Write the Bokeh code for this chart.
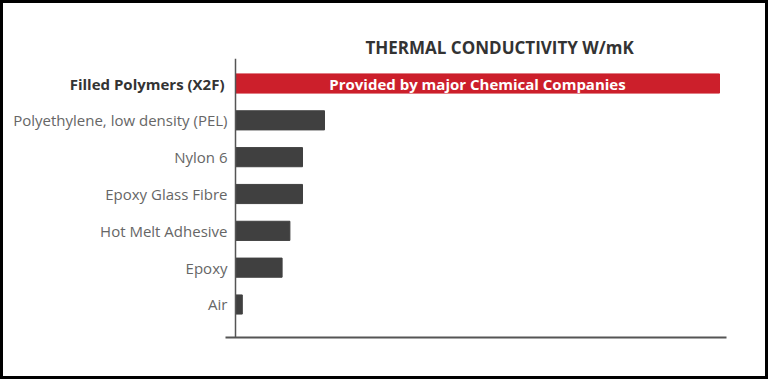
from bokeh.plotting import figure
from bokeh.layouts import column
from bokeh.models import Range1d, Span, FixedTicker, Title, ColumnDataSource, LinearAxis
from bokeh.embed import file_html
from bokeh.resources import INLINE
from bokeh.core.properties import value

# ---- data ----
categories = ["Air", "Epoxy", "Hot Melt Adhesive", "Epoxy Glass Fibre",
              "Nylon 6", "Polyethylene, low density (PEL)", "Filled Polymers (X2F)"]
conductivity = [0.034, 0.233, 0.272, 0.335, 0.335, 0.445, 2.42]
bar_colors = ["#404040", "#404040", "#404040", "#404040", "#404040", "#404040", "#cc1f2b"]
highlight_text = "Provided by major Chemical Companies"
title_text = "THERMAL CONDUCTIVITY W/mK"

ypos = list(range(len(categories)))
FONT = "Open Sans"
X_START, X_END = -0.05, 2.455

source = ColumnDataSource(dict(y=ypos, right=conductivity, color=bar_colors))

p = figure(width=762, height=373, output_backend="svg", toolbar_location=None,
           x_range=Range1d(X_START, X_END), y_range=Range1d(-0.896, 6.679),
           min_border_left=222, min_border_right=39, min_border_top=55,
           min_border_bottom=39)
p.background_fill_color = "white"
p.border_fill_color = "white"
p.outline_line_color = None

p.hbar(y="y", left=0, right="right", height=0.52, color="color", source=source)

p.xgrid.visible = False
p.ygrid.visible = False

# x axis: only the line
xa = p.xaxis[0]
xa.axis_line_color = "#555555"
xa.axis_line_width = 2
xa.major_tick_line_color = None
xa.minor_tick_line_color = None
xa.major_label_text_color = None
xa.major_label_text_font_size = "1px"

# y axis: regular category labels
ya = p.yaxis[0]
ya.ticker = FixedTicker(ticks=ypos[:-1])
ya.major_label_overrides = {i: categories[i] for i in ypos[:-1]}
ya.axis_line_color = None
ya.major_tick_line_color = None
ya.minor_tick_line_color = None
ya.major_tick_in = 0
ya.major_tick_out = 0
ya.major_label_standoff = -2
ya.major_label_text_font = FONT
ya.major_label_text_font_size = "15px"
ya.major_label_text_color = "#666666"

# second left axis for the bold highlighted label; negative standoff pulls it
# back next to the frame, over the empty space of the first axis
hl = LinearAxis(ticker=FixedTicker(ticks=[ypos[-1]]),
                major_label_overrides={ypos[-1]: categories[-1]})
hl.axis_line_color = None
hl.major_tick_line_color = None
hl.minor_tick_line_color = None
hl.major_tick_in = 0
hl.major_tick_out = 0
hl.major_label_standoff = -214
hl.major_label_text_font = FONT
hl.major_label_text_font_size = "15px"
hl.major_label_text_font_style = "bold"
hl.major_label_text_color = "#333333"
p.add_layout(hl, "left")

# vertical axis line at x = 0
p.add_layout(Span(location=0, dimension="height", line_color="#555555", line_width=1.5))

# text inside highlighted bar
p.text(x=[conductivity[-1] / 2], y=[ypos[-1]], text=[highlight_text],
       text_align="center", text_baseline="middle", text_color="white",
       text_font=value(FONT), text_font_size="15px", text_font_style="bold")

p.title = Title(text=title_text, align="left", offset=140, standoff=0, text_font=FONT,
                text_font_size="17px", text_font_style="bold", text_color="#333333")

page = column(p, styles={"border": "3px solid black"})

open("out.html", "w").write(file_html(page, INLINE))
